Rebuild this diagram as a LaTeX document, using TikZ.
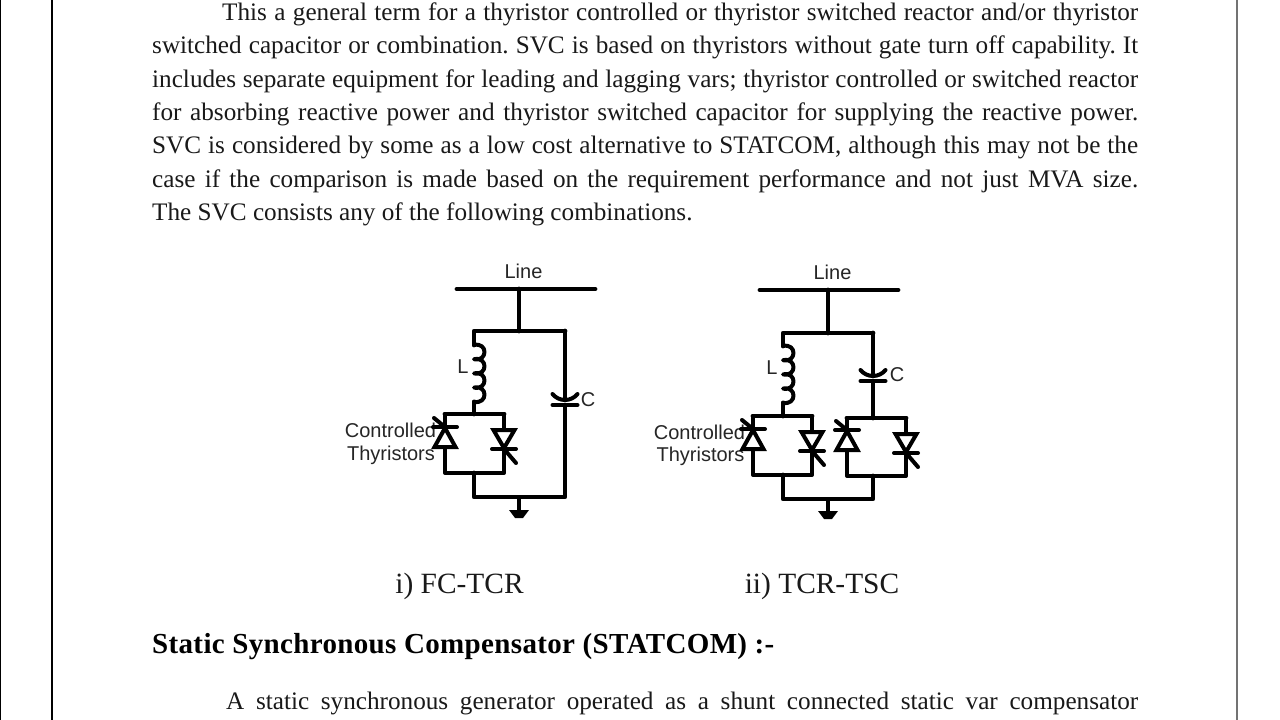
\documentclass[tikz,border=0pt]{standalone}
\usepackage{fontspec}
\setmainfont{Liberation Serif}
\newfontfamily\schemfont{Liberation Sans}
\tikzset{
  x=1pt,y=-1pt,
  bodytext/.style={anchor=base west,inner sep=0pt,text=black!90,font=\fontsize{25.2}{25.2}\selectfont\frenchspacing},
  captext/.style={anchor=base,inner sep=0pt,text=black!90,font=\fontsize{29.4}{29.4}\selectfont},
  headtext/.style={anchor=base west,inner sep=0pt,font=\fontsize{29}{29}\selectfont\bfseries\addfontfeature{LetterSpace=1.2}},
  schemtext/.style={anchor=base,inner sep=0pt,text=black!85,font=\schemfont\fontsize{20}{20}\selectfont},
  wire/.style={line width=4.8pt,line cap=round,line join=round},
  thinwire/.style={line width=4pt,line cap=round,line join=round},
  frameedge/.style={line width=1.5pt,black},
  grayedge/.style={line width=2.2pt,black!55},
  pics/thyup/.style={code={
    \filldraw[thinwire,fill=white,line join=miter] (-10.5,20)--(10.5,20)--(0,1)--cycle;
    \draw[thinwire] (-12,0)--(12,0);
    \draw[thinwire] (0,0)--(-11,-9);
  }},
  pics/thydown/.style={code={
    \filldraw[thinwire,fill=white,line join=miter] (-10.5,-19)--(10.5,-19)--(0,-1)--cycle;
    \draw[thinwire] (-12,0)--(12,0);
    \draw[thinwire] (0,0)--(12,14);
  }},
  pics/gnd/.style={code={
    \draw[line width=4.6pt] (0,-13)--(0,1);
    \fill (-10,0)--(10,0)--(4,8)--(-4,8)--cycle;
  }},
  pics/capa/.style={code={
    \draw[thinwire] (-12.5,5)--(12.5,5);
    \draw[thinwire] (-12.5,-6) .. controls (-6,2) and (6,2) .. (12.5,-6);
  }},
  pics/coil/.style={code={
    \draw[thinwire]
       (0,0) .. controls (14,-3) and (14,17) .. (0,14.2)
             .. controls (14,11.2) and (14,31.2) .. (0,28.4)
             .. controls (14,25.4) and (14,45.4) .. (0,42.6)
             .. controls (14,39.6) and (14,59.6) .. (0,56.8);
  }},
}
\begin{document}
\begin{tikzpicture}
\useasboundingbox (0,0) rectangle (1280,720);
\fill[white] (0,0) rectangle (1280,720);
\draw[frameedge] (52,0)--(52,720);
\draw[grayedge] (1237,0)--(1237,720);
\draw[frameedge] (0.5,0)--(0.5,720);
\node[bodytext] (t1) at (222,20) {\makebox[916pt][s]{This a general term for a thyristor controlled or thyristor switched reactor and/or thyristor}};
\node[bodytext] (t2) at (152,53) {\makebox[986pt][s]{switched capacitor or combination. SVC is based on thyristors without gate turn off capability. It}};
\node[bodytext] (t3) at (152,87) {\makebox[986pt][s]{includes separate equipment for leading and lagging vars; thyristor controlled or switched reactor}};
\node[bodytext] (t4) at (152,120) {\makebox[986pt][s]{for absorbing reactive power and thyristor switched capacitor for supplying the reactive power.}};
\node[bodytext] (t5) at (152,153) {\makebox[986pt][s]{SVC is considered by some as a low cost alternative to STATCOM, although this may not be the}};
\node[bodytext] (t6) at (152,187) {\makebox[986pt][s]{case if the comparison is made based on the requirement performance and not just MVA size.}};
\node[bodytext] (t7) at (152,220) {The SVC consists any of the following combinations.};
\node[headtext] (h) at (152,653) {Static Synchronous Compensator (STATCOM) :-};
\node[bodytext] (t8) at (226,709) {\makebox[912pt][s]{A static synchronous generator operated as a shunt connected static var compensator}};
\node[captext] (c1) at (459.5,593) {i) FC-TCR};
\node[captext] (c2) at (822,593) {ii) TCR-TSC};
% left circuit
\node[schemtext] (l1) at (523.5,278.5) {Line};
\node[schemtext] (n1) at (390.5,437.5) {Controlled};
\node[schemtext] (n2) at (391,460.5) {Thyristors};
\draw[wire] (457,289)--(595,289);
\draw[wire] (519,289)--(519,331);
\draw[wire] (565,331)--(474,331)--(474,345);
\pic at (474,345) {coil};
\draw[wire] (474,402)--(474,414);
\draw[wire] (445,414)--(504,414);
\draw[thinwire] (445,414)--(445,473)--(504,473)--(504,414);
\draw[wire] (474,473)--(474,497)--(565,497)--(565,405);
\draw[wire] (565,331)--(565,399);
\pic at (565,400) {capa};
\node[schemtext] (lc) at (588,406) {C};
\node[schemtext] (ll) at (463,373) {L};
\pic at (445,427) {thyup};
\pic at (504,449) {thydown};
\pic at (519,510) {gnd};
% right circuit
\node[schemtext] (l2) at (832.5,279.5) {Line};
\node[schemtext] (n3) at (699.5,439.5) {Controlled};
\node[schemtext] (n4) at (700.5,461.5) {Thyristors};
\draw[wire] (760,290)--(898,290);
\draw[wire] (828,290)--(828,333);
\draw[wire] (873,333)--(783,333)--(783,346);
\pic at (783,346) {coil};
\draw[wire] (783,403)--(783,416);
\draw[wire] (753,416)--(812,416);
\draw[thinwire] (753,416)--(753,475)--(812,475)--(812,416);
\draw[wire] (783,475)--(783,499)--(873,499)--(873,476);
\draw[wire] (847,418)--(906,418);
\draw[thinwire] (847,418)--(847,476)--(906,476)--(906,418);
\draw[wire] (873,333)--(873,375);
\draw[wire] (873,381)--(873,418);
\pic at (873,376) {capa};
\node[schemtext] (rc) at (897,381) {C};
\node[schemtext] (rl) at (772,374) {L};
\pic at (753,429) {thyup};
\pic at (812,451) {thydown};
\pic at (847,430) {thyup};
\pic at (906,453) {thydown};
\pic at (828,511) {gnd};
\end{tikzpicture}
\end{document}
